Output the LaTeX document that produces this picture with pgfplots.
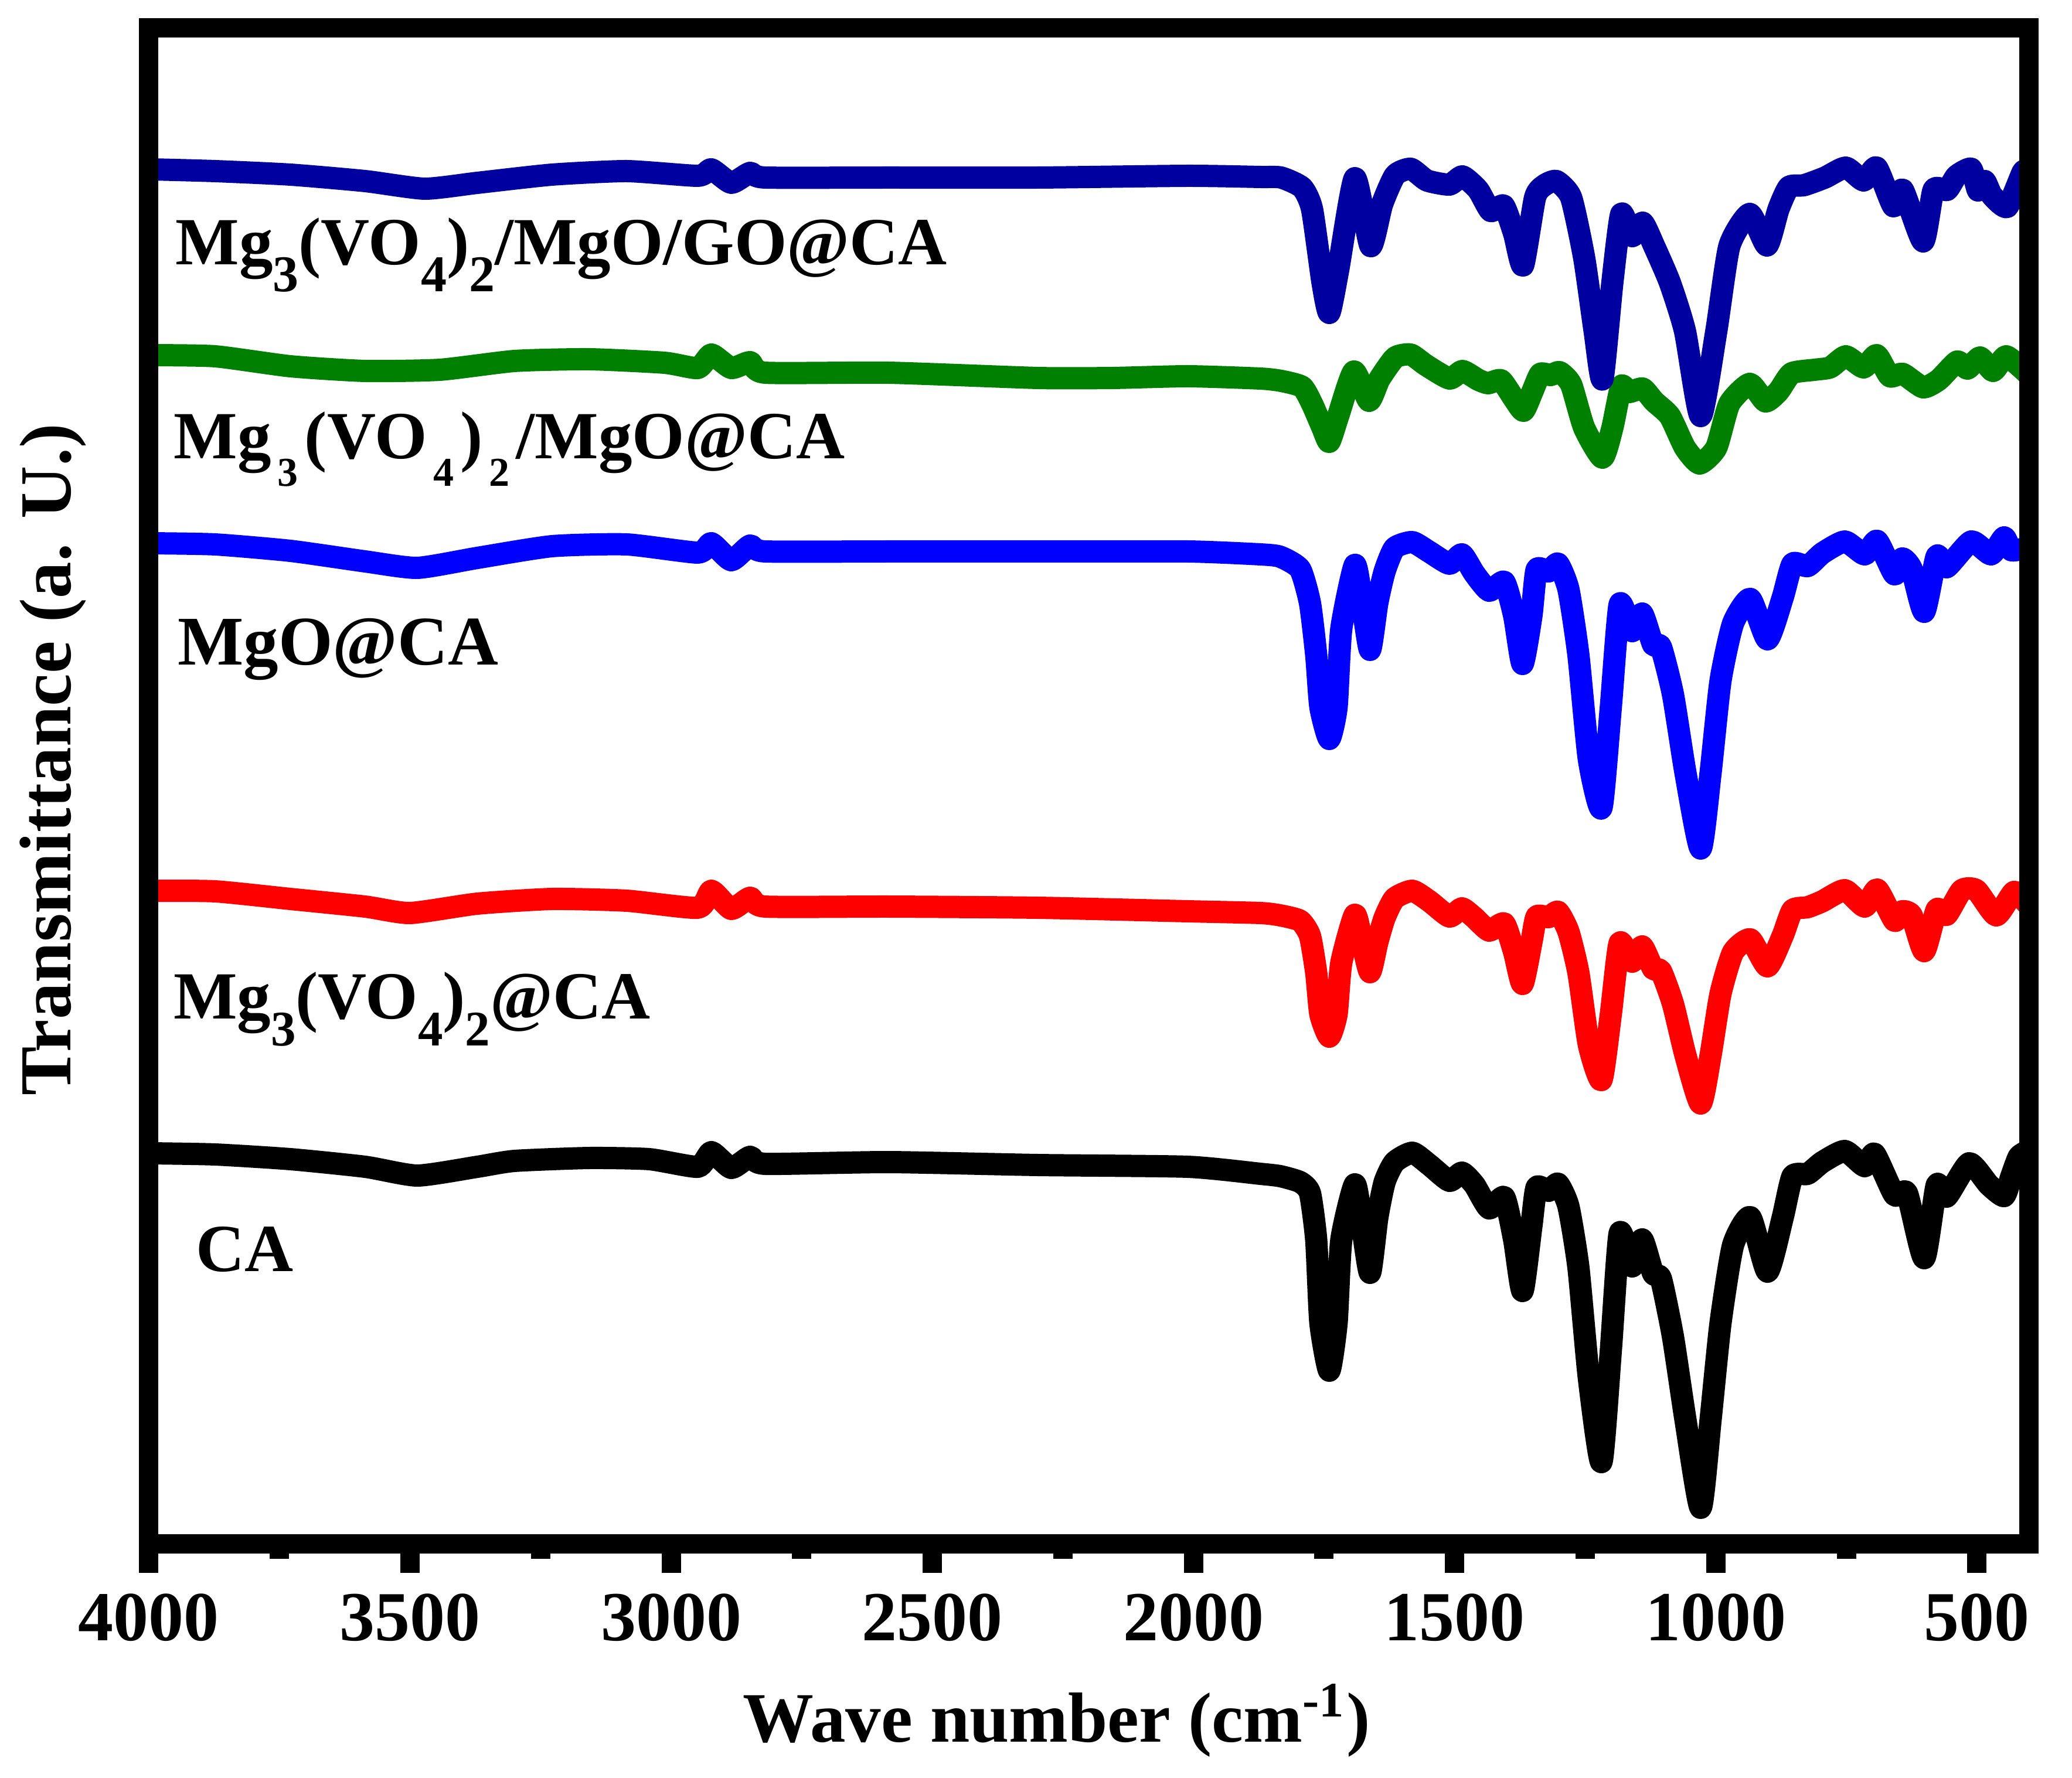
\documentclass[border=0pt]{standalone}
\usepackage{pgfplots}
\pgfplotsset{compat=1.18}
\usepackage{fontspec}
\setmainfont{Liberation Serif}
\usepackage{xcolor}

\definecolor{cadarkblue}{RGB}{0,0,160}
\definecolor{cablue}{RGB}{0,0,255}
\definecolor{cagreen}{RGB}{0,128,0}
\definecolor{cared}{RGB}{255,0,0}

% lowered subscript: size, drop, text
\newcommand{\sub}[3]{\raisebox{-#2}{\fontsize{#1}{#1}\selectfont #3}}
\newcommand{\subs}[1]{\hspace{1.1pt}\raisebox{-4.7pt}{\fontsize{7}{7}\selectfont #1}\hspace{1.1pt}}

\begin{document}
\begin{tikzpicture}
\path[use as bounding box] (0,0) rectangle (353.5pt,303.3pt);
\begin{axis}[
  at={(25.4pt,39.9pt)}, anchor=south west,
  scale only axis, width=320.8pt, height=258.6pt,
  x dir=reverse,
  xmin=400, xmax=4000, ymin=0, ymax=2586,
  xtick={500,1000,1500,2000,2500,3000,3500,4000},
  minor x tick num=1,
  ytick=\empty,
  xtick pos=bottom,
  tick align=outside,
  major tick length=5pt, minor tick length=2.6pt,
  every tick/.style={black, line width=3.3pt},
  axis line style={line width=3.3pt},
  axis on top,
  /pgf/number format/assume math mode=true,
  /pgf/number format/set thousands separator={},
  xticklabel style={font=\bfseries\fontsize{12}{14}\selectfont},
  xlabel={Wave number (cm\textsuperscript{-1})},
  ylabel={Transmittance (a. U.)},
  every axis x label/.style={at={(axis description cs:0.4829,-0.1168)}, anchor=center,
    font=\bfseries\fontsize{12.1}{14}\selectfont},
  every axis y label/.style={at={(axis description cs:-0.0511,0.5174)}, rotate=90, anchor=center,
    font=\bfseries\fontsize{12.5}{14}\selectfont},
  every axis plot/.append style={line width=3.8pt, line join=round, line cap=round, smooth, tension=0.35},
]
% CA
\addplot[black] coordinates {
(4000,666)(3994,666)(3873,664)(3729,656)(3586,643)(3486,628)(3371,643)(3300,653)(3157,658)(3042,656)
(2949,643)(2923,668)(2885,641)(2849,660)(2820,648)(2584,651)(2298,646)(2011,643)(1872,631)(1834,627)
(1796,617)(1777,598)(1765,518)(1757,376)(1740,295)(1726,376)(1717,518)(1691,613)(1677,542)(1662,462)
(1648,556)(1634,617)(1615,651)(1581,667)(1548,646)(1510,619)(1486,633)(1462,612)(1434,572)(1405,591)
(1386,518)(1370,431)(1353,542)(1343,608)(1320,602)(1302,614)(1282,575)(1263,471)(1243,282)(1219,139)
(1201,329)(1184,530)(1160,473)(1141,519)(1120,461)(1105,452)(1082,353)(1058,211)(1029,61)(1010,211)
(991,376)(967,509)(934,557)(901,464)(872,556)(853,627)(824,631)(796,651)(753,670)(715,644)
(696,665)(658,595)(634,598)(601,487)(577,612)(558,592)(515,649)(477,612)(448,593)(434,627)
(420,660)(405,669)};
% Mg3(VO4)2@CA
\addplot[cared] coordinates {
(4000,1114)(3994,1114)(3873,1113)(3729,1100)(3586,1087)(3500,1076)(3371,1092)(3228,1100)(3085,1097)(2949,1085)
(2923,1114)(2885,1083)(2849,1102)(2820,1087)(2584,1087)(2298,1085)(2011,1079)(1872,1076)(1834,1072)(1796,1063)
(1777,1037)(1765,974)(1757,903)(1740,865)(1726,903)(1717,991)(1691,1073)(1677,1026)(1662,975)(1648,1026)
(1634,1068)(1615,1101)(1581,1114)(1548,1096)(1510,1070)(1486,1084)(1462,1068)(1434,1046)(1405,1058)(1386,1009)
(1370,955)(1353,1026)(1343,1070)(1320,1069)(1302,1078)(1282,1044)(1263,974)(1243,851)(1219,791)(1201,903)
(1184,1025)(1160,993)(1141,1019)(1120,981)(1105,977)(1082,921)(1058,833)(1029,751)(1010,833)(991,938)
(967,1009)(934,1031)(901,985)(872,1037)(853,1081)(824,1086)(796,1096)(753,1115)(715,1087)(691,1116)
(658,1063)(643,1079)(625,1072)(601,1011)(577,1082)(558,1073)(529,1115)(501,1115)(463,1072)(429,1112)
(405,1093)};
% MgO@CA
\addplot[cablue] coordinates {
(4000,1707)(3994,1707)(3873,1705)(3729,1694)(3586,1676)(3486,1665)(3371,1682)(3228,1702)(3085,1705)(2949,1691)
(2923,1707)(2885,1678)(2849,1703)(2820,1693)(2584,1693)(2298,1693)(2011,1693)(1872,1688)(1834,1684)(1796,1663)
(1777,1605)(1765,1516)(1757,1427)(1740,1373)(1726,1427)(1717,1561)(1691,1670)(1677,1605)(1662,1525)(1648,1605)
(1634,1659)(1615,1699)(1581,1709)(1548,1692)(1510,1672)(1486,1688)(1462,1655)(1434,1626)(1405,1641)(1386,1583)
(1370,1501)(1353,1583)(1343,1662)(1320,1659)(1302,1672)(1282,1628)(1263,1516)(1243,1338)(1219,1255)(1201,1427)
(1184,1603)(1160,1557)(1141,1587)(1120,1534)(1105,1530)(1082,1449)(1058,1315)(1029,1186)(1010,1315)(991,1472)
(967,1570)(934,1612)(901,1543)(872,1614)(853,1672)(824,1668)(796,1690)(753,1710)(715,1688)(691,1711)
(658,1654)(643,1681)(625,1663)(601,1590)(577,1685)(558,1666)(511,1710)(473,1688)(448,1717)(434,1695)
(405,1699)};
% Mg3(VO4)2/MgO@CA
\addplot[cagreen] coordinates {
(4000,2028)(3994,2028)(3873,2026)(3729,2009)(3586,2001)(3443,2003)(3300,2018)(3157,2021)(3013,2015)(2949,2006)
(2923,2029)(2885,2006)(2849,2016)(2820,1998)(2584,1998)(2298,1989)(2155,1989)(2011,1992)(1872,1988)(1832,1984)
(1792,1974)(1773,1945)(1753,1904)(1740,1880)(1723,1924)(1693,2000)(1664,1950)(1644,1987)(1614,2024)(1584,2029)
(1555,2011)(1510,1988)(1485,2001)(1455,1986)(1436,1980)(1411,1985)(1386,1953)(1368,1933)(1351,1966)(1336,1996)
(1316,1994)(1299,1999)(1277,1978)(1252,1904)(1217,1853)(1198,1904)(1181,1975)(1166,1965)(1140,1971)(1118,1949)
(1088,1924)(1059,1870)(1031,1843)(999,1870)(974,1945)(935,1979)(905,1949)(880,1966)(855,1997)(811,2003)
(781,2007)(751,2026)(717,2007)(692,2028)(667,1992)(642,1996)(603,1973)(573,1986)(538,2017)(518,2005)
(494,2024)(469,2001)(444,2026)(405,1998)};
% Mg3(VO4)2/MgO/GO@CA
\addplot[cadarkblue] coordinates {
(4000,2345)(3994,2345)(3873,2342)(3729,2336)(3586,2325)(3472,2312)(3371,2322)(3228,2336)(3085,2342)(2949,2334)
(2923,2345)(2885,2322)(2849,2339)(2820,2331)(2584,2331)(2298,2331)(2011,2334)(1872,2332)(1832,2331)(1792,2314)
(1773,2277)(1753,2152)(1740,2100)(1723,2173)(1691,2330)(1661,2214)(1639,2285)(1614,2335)(1584,2346)(1553,2326)
(1510,2319)(1485,2333)(1455,2310)(1431,2274)(1406,2283)(1386,2235)(1369,2181)(1346,2297)(1328,2318)(1305,2325)
(1277,2297)(1252,2194)(1232,2069)(1217,1987)(1198,2152)(1181,2269)(1160,2231)(1140,2254)(1118,2214)(1088,2152)
(1059,2069)(1029,1924)(999,2069)(974,2214)(935,2269)(902,2215)(880,2277)(860,2315)(831,2318)(791,2331)
(751,2348)(717,2326)(692,2348)(660,2282)(642,2310)(603,2222)(583,2310)(557,2310)(539,2334)(511,2346)
(498,2309)(485,2325)(471,2300)(442,2281)(412,2341)(405,2335)};

\node[anchor=base west, inner sep=0, font=\bfseries\fontsize{11.5}{13}\selectfont]
  at (axis cs:3951,2182) {Mg\sub{8.8pt}{4.6pt}{3}(VO\sub{8.8pt}{4.6pt}{4})\sub{8.8pt}{4.6pt}{2}/MgO/GO@CA};
\node[anchor=base west, inner sep=0, font=\bfseries\fontsize{11.5}{13}\selectfont]
  at (axis cs:3954,1852) {Mg\subs{3}(VO\subs{4})\subs{2}/MgO@CA};
\node[anchor=base west, inner sep=0, font=\bfseries\fontsize{11.9}{13}\selectfont]
  at (axis cs:3947,1499) {MgO@CA};
\node[anchor=base west, inner sep=0, font=\bfseries\fontsize{11.5}{13}\selectfont]
  at (axis cs:3955,896) {Mg\sub{8.5pt}{4.6pt}{3}(VO\sub{8.5pt}{4.6pt}{4})\sub{8.5pt}{4.6pt}{2}@CA};
\node[anchor=base west, inner sep=0, font=\bfseries\fontsize{11.5}{13}\selectfont]
  at (axis cs:3912,465) {CA};
\end{axis}
\end{tikzpicture}
\end{document}
